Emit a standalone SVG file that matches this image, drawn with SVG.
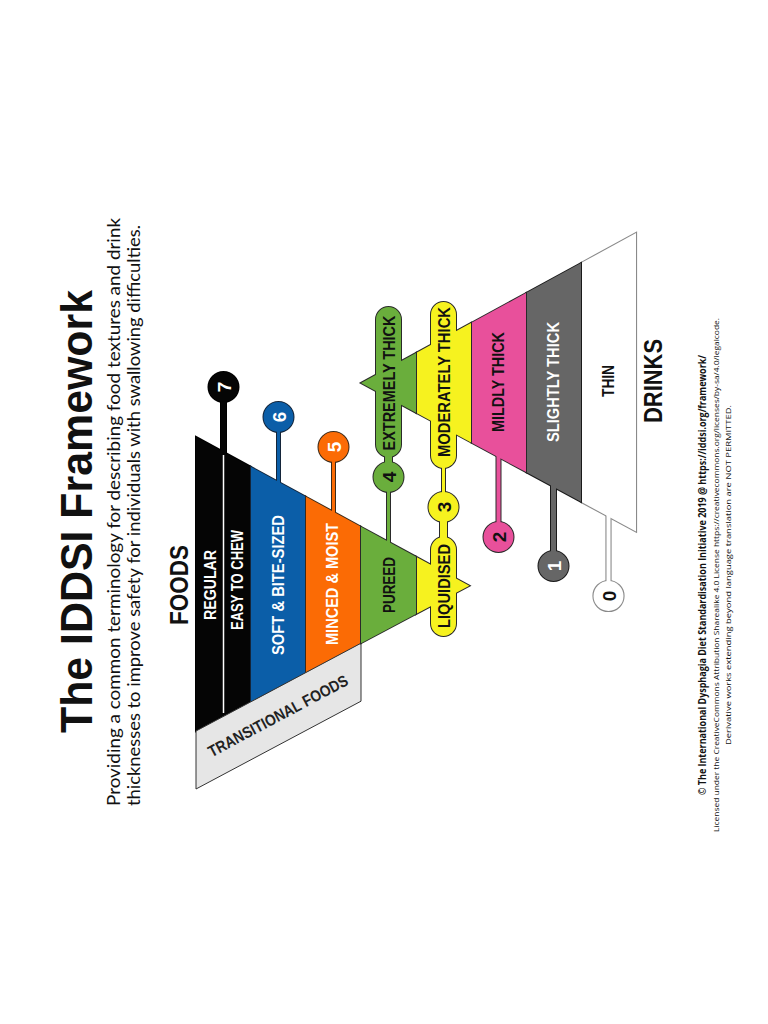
<svg xmlns="http://www.w3.org/2000/svg" xmlns:xlink="http://www.w3.org/1999/xlink" width="768" height="1024" viewBox="0 0 768 1024">
<style>
.lbl{font-family:"Liberation Sans",Arial,sans-serif;font-weight:700;font-size:16px;text-anchor:middle}
.num{font-family:"Liberation Sans",Arial,sans-serif;font-weight:700;font-size:19px;text-anchor:middle}
.w{fill:#ffffff}
.k{fill:#111111}
.hd{font-family:"Liberation Sans",Arial,sans-serif;font-weight:700;text-anchor:middle;fill:#111}
.sub{font-family:Lato,"Open Sans","Liberation Sans",sans-serif;font-weight:400;font-size:18px;fill:#111}
.ft{font-family:"Open Sans","Liberation Sans",sans-serif;text-anchor:middle;fill:#111}
</style>
<defs>
<g id="s0"><polygon points="581,263.1 636,233.1 636,531.5 581,501.8"/><rect x="606.5" y="510" width="4" height="75"/><circle cx="608.5" cy="596" r="15"/></g>
<g id="s1"><polygon points="526,293.1 581,263.1 581,501.8 526,472.1"/><rect x="551" y="480" width="5" height="75"/><circle cx="553.5" cy="566" r="15"/></g>
<g id="s2"><polygon points="471,323.05 526,293.1 526,472.1 471,442.4"/><rect x="496.5" y="450" width="4" height="77"/><circle cx="498.5" cy="537" r="15"/></g>
<g id="s7"><polygon points="196,437 251,466.9 251,701.7 196,731"/><rect x="221" y="395" width="5" height="62"/><circle cx="223.5" cy="387" r="15"/></g>
<g id="s6"><polygon points="251,466.9 306,496.8 306,672.5 251,701.7"/><rect x="277" y="425" width="3" height="64"/><circle cx="278.5" cy="417" r="15"/></g>
<g id="s5"><polygon points="306,496.8 361,526.8 361,643.2 306,672.5"/><rect x="332" y="455" width="3" height="64"/><circle cx="333.5" cy="447" r="15"/></g>
<g id="s3"><polygon points="416,353 471,323.05 471,442.4 416,412.7"/><rect x="431" y="302" width="25" height="166" rx="12.5"/><rect x="442" y="462" width="3" height="34"/><circle cx="443.5" cy="507" r="15"/><rect x="440" y="516" width="7" height="26"/><rect x="431" y="537" width="25" height="99" rx="12.5"/><polygon points="416,556.7 469.4,585.7 416,614"/></g>
<g id="s4"><polygon points="361,383 416,353 416,412.7"/><rect x="376" y="307" width="25" height="150" rx="12.5"/><rect x="385" y="450" width="7" height="18"/><circle cx="388.5" cy="477" r="15"/><rect x="387" y="488" width="3" height="60"/><polygon points="361,526.8 416,556.7 416,614 361,643.2"/></g>
</defs>
<rect width="768" height="1024" fill="#ffffff"/>

<g id="title">
<text class="hd" font-size="44" style="text-anchor:start" transform="translate(92,733) rotate(-90)" textLength="443" lengthAdjust="spacingAndGlyphs">The IDDSI Framework</text>
<text class="sub" transform="translate(120,806) rotate(-90)" textLength="588" lengthAdjust="spacingAndGlyphs">Providing a common terminology for describing food textures and drink</text>
<text class="sub" transform="translate(140,806) rotate(-90)" textLength="581" lengthAdjust="spacingAndGlyphs">thicknesses to improve safety for individuals with swallowing difficulties.</text>
<text class="hd" font-size="25" transform="translate(188,585) rotate(-90)" textLength="80" lengthAdjust="spacingAndGlyphs">FOODS</text>
<text class="hd" font-size="25" transform="translate(662,381) rotate(-90)" textLength="84" lengthAdjust="spacingAndGlyphs">DRINKS</text>
</g>

<g id="level0"><use xlink:href="#s0" fill="#ffffff" stroke="#8a8a8a" stroke-width="2.2"/><use xlink:href="#s0" fill="#ffffff"/></g>
<g id="level1"><use xlink:href="#s1" fill="#666666" stroke="#1a1a1a" stroke-width="2"/><use xlink:href="#s1" fill="#666666"/></g>
<g id="level2"><use xlink:href="#s2" fill="#e8509b" stroke="#2a2a2a" stroke-width="2"/><use xlink:href="#s2" fill="#e8509b"/></g>
<g id="level7"><use xlink:href="#s7" fill="#050505" stroke="#000" stroke-width="2"/><use xlink:href="#s7" fill="#050505"/></g>
<g id="level6"><use xlink:href="#s6" fill="#0b5ea8" stroke="#14253a" stroke-width="2"/><use xlink:href="#s6" fill="#0b5ea8"/></g>
<g id="level5"><use xlink:href="#s5" fill="#fb6b05" stroke="#3a2a1a" stroke-width="2"/><use xlink:href="#s5" fill="#fb6b05"/></g>
<g id="transitional"><polygon points="196,731 361,643.2 361,701.2 196,789" fill="#e6e6e6" stroke="#333" stroke-width="1"/>
<text class="lbl" fill="#222" font-size="15" transform="translate(280.6,720.8) rotate(-28)" textLength="156" lengthAdjust="spacingAndGlyphs">TRANSITIONAL FOODS</text></g>
<g id="level3"><use xlink:href="#s3" fill="#f6f21f" stroke="#2a2a2a" stroke-width="2"/><use xlink:href="#s3" fill="#f6f21f"/></g>
<g id="level4"><use xlink:href="#s4" fill="#6aae3c" stroke="#2a2a2a" stroke-width="2"/><use xlink:href="#s4" fill="#6aae3c"/></g>

<g id="connectors">
<line x1="223.5" y1="455" x2="223.5" y2="713" stroke="#ffffff" stroke-width="1.5"/>
</g>

<g id="labels">
<text class="lbl w" transform="translate(215.5,585) rotate(-90)" textLength="70" lengthAdjust="spacingAndGlyphs">REGULAR</text>
<text class="lbl w" transform="translate(243,580) rotate(-90)" textLength="100" lengthAdjust="spacingAndGlyphs">EASY TO CHEW</text>
<text class="lbl w" transform="translate(284,585) rotate(-90)" textLength="140" lengthAdjust="spacingAndGlyphs">SOFT &amp; BITE-SIZED</text>
<text class="lbl w" transform="translate(338,584) rotate(-90)" textLength="122" lengthAdjust="spacingAndGlyphs">MINCED &amp; MOIST</text>
<text class="lbl k" transform="translate(394.5,585) rotate(-90)" textLength="56" lengthAdjust="spacingAndGlyphs">PUREED</text>
<text class="lbl k" transform="translate(449.5,586) rotate(-90)" textLength="84" lengthAdjust="spacingAndGlyphs">LIQUIDISED</text>
<text class="lbl k" transform="translate(394.5,383) rotate(-90)" textLength="135" lengthAdjust="spacingAndGlyphs">EXTREMELY THICK</text>
<text class="lbl k" transform="translate(449.5,382) rotate(-90)" textLength="150" lengthAdjust="spacingAndGlyphs">MODERATELY THICK</text>
<text class="lbl k" transform="translate(504,382) rotate(-90)" textLength="100" lengthAdjust="spacingAndGlyphs">MILDLY THICK</text>
<text class="lbl w" transform="translate(559,382) rotate(-90)" textLength="120" lengthAdjust="spacingAndGlyphs">SLIGHTLY THICK</text>
<text class="lbl k" transform="translate(614,381) rotate(-90)" textLength="32" lengthAdjust="spacingAndGlyphs">THIN</text>
</g>

<g id="numbers">
<text class="num w" transform="translate(230.5,387) rotate(-90)">7</text>
<text class="num w" transform="translate(285.5,417) rotate(-90)">6</text>
<text class="num w" transform="translate(340.5,447) rotate(-90)">5</text>
<text class="num k" transform="translate(395.5,477) rotate(-90)">4</text>
<text class="num k" transform="translate(450.5,507) rotate(-90)">3</text>
<text class="num k" transform="translate(505.5,537) rotate(-90)">2</text>
<text class="num w" transform="translate(560.5,566) rotate(-90)">1</text>
<text class="num k" transform="translate(615.5,596) rotate(-90)">0</text>
</g>

<g id="footer">
<text class="ft" font-size="10.5" font-weight="700" transform="translate(706,575) rotate(-90)" textLength="440" lengthAdjust="spacingAndGlyphs">© The International Dysphagia Diet Standardisation Initiative 2019 @ https://iddsi.org/framework/</text>
<text class="ft" font-size="8" transform="translate(719,575) rotate(-90)" textLength="514" lengthAdjust="spacingAndGlyphs">Licensed under the CreativeCommons Attribution Sharealike 4.0 License https://creativecommons.org/licenses/by-sa/4.0/legalcode.</text>
<text class="ft" font-size="8" transform="translate(731,575) rotate(-90)" textLength="340" lengthAdjust="spacingAndGlyphs">Derivative works extending beyond language translation are NOT PERMITTED.</text>
</g>
</svg>
